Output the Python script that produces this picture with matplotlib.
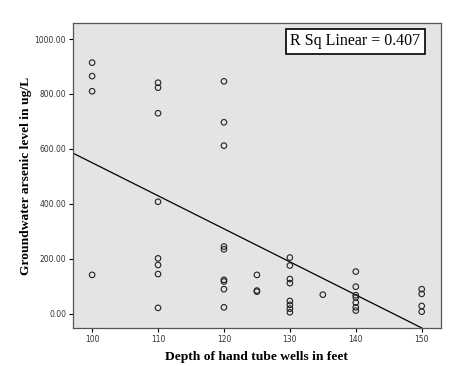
import numpy as np
import matplotlib
matplotlib.use("Agg")
import matplotlib.pyplot as plt

depth = [100, 100, 100, 100,
         110, 110, 110, 110, 110, 110, 110, 110,
         120, 120, 120, 120, 120, 120, 120, 120, 120,
         125, 125, 125,
         130, 130, 130, 130, 130, 130, 130, 130,
         135,
         140, 140, 140, 140, 140, 140, 140,
         150, 150, 150, 150]
arsenic = [914, 865, 810, 142,
           841, 823, 730, 408, 202, 178, 145, 22,
           846, 697, 612, 245, 235, 124, 118, 90, 24,
           142, 85, 81,
           205, 176, 127, 112, 47, 33, 19, 6,
           70,
           154, 99, 68, 60, 41, 24, 12,
           90, 73, 29, 8]
xticks = [100, 110, 120, 130, 140, 150]
yticks = [0, 200, 400, 600, 800, 1000]
# linear fit as reported in the chart
fit_intercept = 1752.0
fit_slope = -12.02
r_sq = 0.407

x = np.array(depth, float)
y = np.array(arsenic, float)

fig = plt.figure(figsize=(4.74, 3.66), dpi=100)
ax = fig.add_axes([0.154, 0.104, 0.776, 0.833])
ax.set_facecolor("#e4e4e4")
ax.set_xlim(97.1, 152.9)
ax.set_ylim(-51, 1058)

xl = np.array([97.1, 150.0])
ax.plot(xl, fit_intercept + fit_slope * xl, color="black", lw=0.9, zorder=2)
ax.scatter(x, y, s=16, facecolors="none", edgecolors="#222222", linewidths=0.8, zorder=3)

ax.set_xticks(xticks)
ax.set_xticklabels([str(v) for v in xticks])
ax.set_yticks(yticks)
ax.set_yticklabels([f"{v:.2f}" for v in yticks])
ax.tick_params(axis="both", labelsize=5.5, length=3, width=0.8, direction="out", pad=2,
               labelcolor="#333333")
for sp in ax.spines.values():
    sp.set_color("#555555")
    sp.set_linewidth(0.9)

serif = ["Liberation Serif", "DejaVu Serif"]
ax.set_xlabel("Depth of hand tube wells in feet", fontsize=9.7, fontweight="bold", family=serif, labelpad=5)
ax.set_ylabel("Groundwater arsenic level in ug/L", fontsize=9.7, fontweight="bold", family=serif)
ax.yaxis.set_label_coords(-0.112, 0.5)

ax.text(0.945, 0.94, f"R Sq Linear = {r_sq:.3f}", transform=ax.transAxes, ha="right", va="center",
        fontsize=11.5, family=serif,
        bbox=dict(boxstyle="square,pad=0.3", facecolor="white", edgecolor="black", linewidth=1.2))

fig.savefig("out.png", dpi=100, facecolor="white")
